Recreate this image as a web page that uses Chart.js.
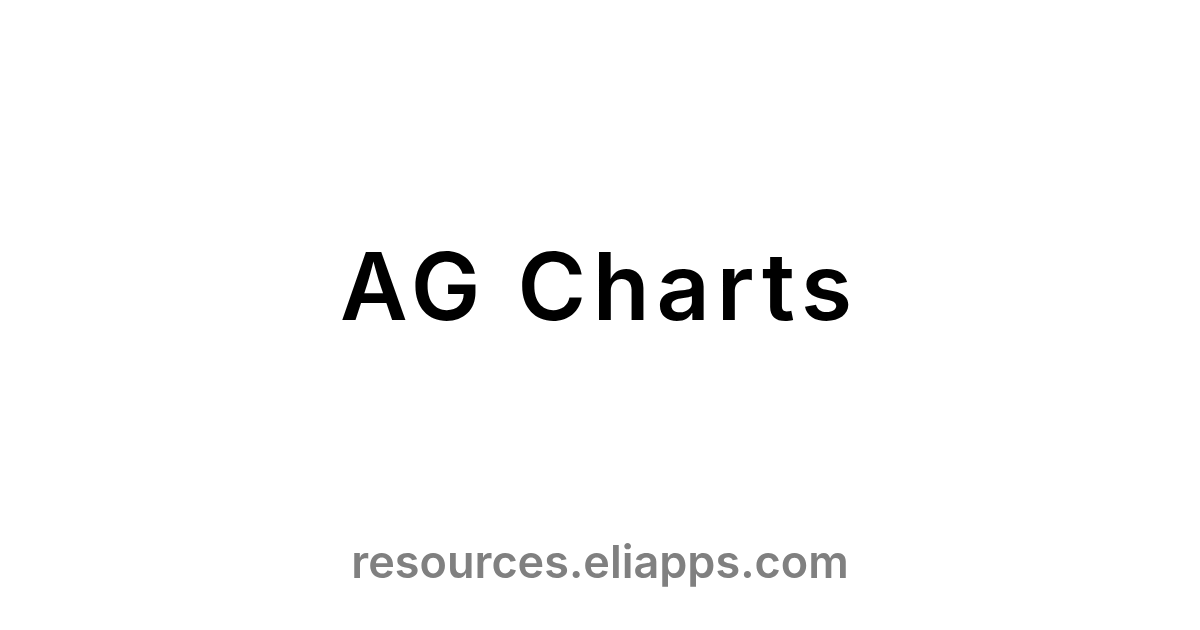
<!DOCTYPE html>
<html>
<head>
<meta charset="utf-8">
<script src="https://cdn.jsdelivr.net/npm/chart.js@4/dist/chart.umd.min.js"></script>
<style>
  html, body { margin: 0; padding: 0; background: #fff; }
  #wrap { width: 1200px; height: 630px; }
</style>
</head>
<body>
<div id="wrap"><canvas id="chart"></canvas></div>
<script>
// the picture has no series, only two lines of text
const categories = [];
const values = [];
const titleText = 'AG Charts';
const footerText = 'resources.eliapps.com';

// draws the two text lines onto the chart canvas
const cardText = {
    id: 'cardText',
    afterDraw(chart) {
        const ctx = chart.ctx;
        const w = chart.width;
        ctx.save();
        ctx.textBaseline = 'alphabetic';
        ctx.textAlign = 'left';

        // big title, spread out to ~512px wide
        ctx.font = '600 93px Inter';
        ctx.fillStyle = '#000';
        ctx.letterSpacing = '0px';
        const plain = ctx.measureText(titleText).width;
        const gap = (512 - plain) / (titleText.length - 1);
        ctx.letterSpacing = gap + 'px';
        ctx.fillText(titleText, (w - 512) / 2 - 4, 320);

        // grey footer
        ctx.letterSpacing = '0px';
        ctx.font = '600 45px Inter';
        ctx.fillStyle = '#808080';
        const fw = ctx.measureText(footerText).width;
        ctx.fillText(footerText, (w - fw) / 2, 578);
        ctx.restore();
    }
};

new Chart(document.querySelector('#chart'), {
    type: 'bar',
    data: {
        labels: categories,
        datasets: [{ data: values }]
    },
    options: {
        responsive: true,
        maintainAspectRatio: false,
        animation: false,
        plugins: {
            legend: { display: false },
            tooltip: { enabled: false }
        },
        scales: {
            x: { display: false },
            y: { display: false }
        }
    },
    plugins: [cardText]
});
</script>
</body>
</html>
